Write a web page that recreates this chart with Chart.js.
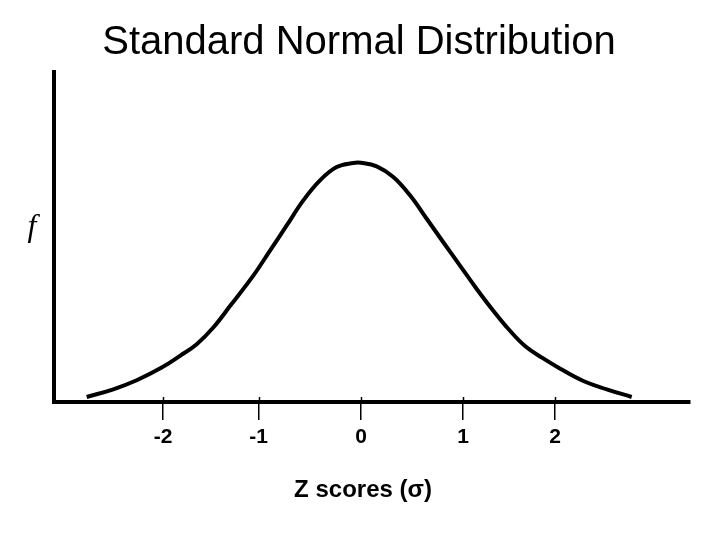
<!DOCTYPE html>
<html>
<head>
<meta charset="utf-8">
<script src="https://cdn.jsdelivr.net/npm/chart.js@4/dist/chart.umd.min.js"></script>
<style>
  html, body { margin: 0; padding: 0; background: #fff; }
  #wrap { width: 720px; height: 540px; }
</style>
</head>
<body>
<div id="wrap"><canvas id="c" width="720" height="540"></canvas></div>
<script>
// ---- data ----
const zValues = [-2.743, -2.477, -2.243, -1.993, -1.81, -1.643, -1.477, -1.31, -1.077, -0.91, -0.743, -0.577, -0.41, -0.243, -0.077, 0,
                 0.157, 0.323, 0.49, 0.657, 0.823, 0.99, 1.157, 1.323, 1.49, 1.643, 1.81, 1.993, 2.223, 2.457, 2.707];
const fValues = [0.0084, 0.0212, 0.0363, 0.0574, 0.077, 0.0965, 0.1243, 0.160, 0.2108, 0.2526, 0.2945, 0.3363, 0.3698, 0.392, 0.3987, 0.399,
                 0.3932, 0.3753, 0.3447, 0.3057, 0.2665, 0.2275, 0.1886, 0.1523, 0.1188, 0.093, 0.074, 0.0555, 0.0351, 0.0212, 0.0084];
const tickPositions = [-1.98, -1.025, 0, 1.02, 1.94];
const tickLabels = ['-2', '-1', '0', '1', '2'];
const titleText = 'Standard Normal Distribution';
const xTitle = 'Z scores (\u03C3)';
const yTitle = 'f';

const points = zValues.map((z, i) => ({ x: z, y: fValues[i] }));

const labelPlugin = {
  id: 'labels',
  afterDraw(chart) {
    const ctx = chart.ctx;
    const area = chart.chartArea;
    const xs = chart.scales.x;
    ctx.save();
    // tick marks poking slightly above the axis line
    ctx.strokeStyle = '#000';
    ctx.lineWidth = 1.5;
    tickPositions.forEach(v => {
      const px = Math.round(xs.getPixelForValue(v)) + 0.5;
      ctx.beginPath();
      ctx.moveTo(px, area.bottom - 5);
      ctx.lineTo(px, area.bottom);
      ctx.stroke();
    });
    // y label (upright italic f)
    ctx.font = 'italic 32px "Liberation Serif", "Times New Roman", serif';
    ctx.fillStyle = '#000';
    ctx.textAlign = 'center';
    ctx.textBaseline = 'middle';
    ctx.fillText(yTitle, area.left - 22, area.top + (area.bottom - area.top) * 0.47);
    // x title
    ctx.font = 'bold 24px "Liberation Sans", Arial, sans-serif';
    ctx.fillText(xTitle, xs.getPixelForValue(0) + 2, area.bottom + 88);
    ctx.restore();
  }
};

new Chart(document.getElementById('c'), {
  type: 'line',
  data: {
    datasets: [{
      data: points,
      borderColor: '#000',
      borderWidth: 4,
      pointRadius: 0,
      fill: false,
      tension: 0.4
    }]
  },
  options: {
    responsive: false,
    animation: false,
    devicePixelRatio: 1,
    layout: { padding: { left: 28, right: 30, top: 0, bottom: 78 } },
    plugins: {
      legend: { display: false },
      tooltip: { enabled: false },
      title: {
        display: true,
        text: titleText,
        color: '#000',
        font: { family: '"Liberation Sans", Arial, sans-serif', size: 40, weight: 'normal', lineHeight: 1.2 },
        padding: { top: 19, bottom: 5 }
      }
    },
    scales: {
      x: {
        type: 'linear',
        min: -3.07,
        max: 3.29,
        afterBuildTicks(scale) {
          scale.ticks = tickPositions.map(v => ({ value: v }));
        },
        afterFit(scale) { scale.height = 60; },
        ticks: {
          color: '#000',
          padding: 5,
          font: { family: '"Liberation Sans", Arial, sans-serif', size: 21, weight: 'bold', lineHeight: 1.2 },
          callback(value, index) { return tickLabels[index]; },
          maxRotation: 0,
          autoSkip: false
        },
        grid: {
          display: true,
          drawOnChartArea: false,
          drawTicks: true,
          tickLength: 18,
          color: '#000',
          lineWidth: 1.5
        },
        border: { display: true, color: '#000', width: 4 }
      },
      y: {
        type: 'linear',
        min: 0,
        max: 0.5505,
        afterFit(scale) { scale.width = 26; },
        ticks: { display: false },
        grid: { display: false, drawTicks: false },
        border: { display: true, color: '#000', width: 4 }
      }
    }
  },
  plugins: [labelPlugin]
});
</script>
</body>
</html>
